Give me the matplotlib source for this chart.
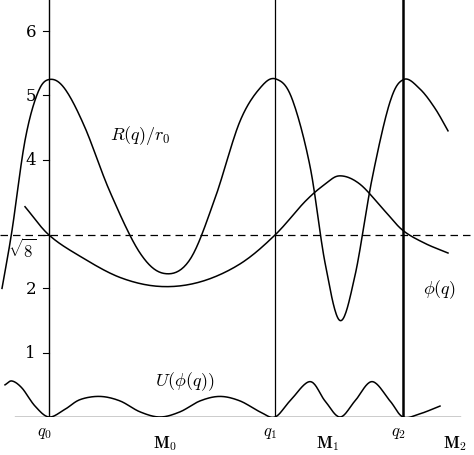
import matplotlib.pyplot as plt
import numpy as np

# curve samples (q in pixel-like units, value in y units)
r_q = [2, 12, 25, 38, 50, 65, 85, 110, 140, 165, 190, 215, 240, 262, 277, 292, 310, 325, 340, 355, 372, 390, 404, 420, 435, 448]
r_v = [2.0, 2.9, 4.3, 5.05, 5.25, 5.1, 4.5, 3.5, 2.55, 2.23, 2.45, 3.4, 4.6, 5.15, 5.25, 4.95, 3.9, 2.4, 1.5, 2.2, 3.7, 4.9, 5.25, 5.1, 4.8, 4.45]
phi_q = [25, 49, 80, 120, 160, 200, 240, 275, 305, 325, 340, 360, 385, 403, 425, 448]
phi_v = [3.27, 2.83, 2.5, 2.17, 2.03, 2.1, 2.38, 2.83, 3.35, 3.62, 3.75, 3.62, 3.2, 2.9, 2.7, 2.55]
u_q = [5, 12, 22, 35, 49, 65, 80, 100, 120, 140, 160, 180, 200, 220, 240, 260, 275, 290, 310, 325, 340, 355, 372, 390, 403, 420, 440]
u_v = [0.5, 0.56, 0.45, 0.17, 0.0, 0.12, 0.27, 0.32, 0.25, 0.08, 0.0, 0.08, 0.25, 0.32, 0.25, 0.08, 0.0, 0.25, 0.55, 0.25, 0.0, 0.25, 0.55, 0.25, 0.0, 0.05, 0.17]
mark_q = [49, 275, 403]
mark_labels = ["$q_0$", "$q_1$", "$q_2$"]
ytick_vals = [1, 2, np.sqrt(8), 4, 5, 6]
ytick_labels = ["1", "2", r"$\sqrt{8}$", "4", "5", "6"]


def smooth(xs, ys, n=20):
    # Catmull-Rom through the sampled points
    xs, ys = np.asarray(xs, float), np.asarray(ys, float)
    px = np.concatenate([[2 * xs[0] - xs[1]], xs, [2 * xs[-1] - xs[-2]]])
    py = np.concatenate([[2 * ys[0] - ys[1]], ys, [2 * ys[-1] - ys[-2]]])
    ox, oy = [], []
    t = np.linspace(0, 1, n, endpoint=False)
    for i in range(1, len(px) - 2):
        for p, o in ((px, ox), (py, oy)):
            a, b, c, d = p[i - 1], p[i], p[i + 1], p[i + 2]
            o.extend(0.5 * (2 * b + (c - a) * t + (2 * a - 5 * b + 4 * c - d) * t ** 2
                            + (3 * b - a - 3 * c + d) * t ** 3))
    ox.append(xs[-1]); oy.append(ys[-1])
    return ox, oy


plt.rcParams['font.family'] = ['DejaVu Serif']
plt.rcParams['mathtext.fontset'] = 'cm'
fig = plt.figure(figsize=(4.74, 4.56), dpi=100)
ax = fig.add_axes([0, 38 / 456, 1, 418 / 456])
ax.set_xlim(0, 474)
ax.set_ylim(0, 6.5)
ax.axis('off')

for xs, ys in ((r_q, r_v), (phi_q, phi_v), (u_q, u_v)):
    sx, sy = smooth(xs, ys)
    ax.plot(sx, sy, color='k', lw=1.1)

ax.axhline(np.sqrt(8), color='k', lw=0.9, ls=(0, (6, 4)))
ax.plot([15, 460], [0, 0], color='k', lw=1)
ax.plot([49, 49], [0, 6.5], color='k', lw=1)
ax.plot([275, 275], [0, 6.5], color='k', lw=0.9)
ax.plot([403, 403], [0, 6.5], color='k', lw=1.8)
for v, lab in zip(ytick_vals, ytick_labels):
    ax.plot([43, 49], [v, v], color='k', lw=0.8)
    ax.text(36, v if lab != r"$\sqrt{8}$" else v - 0.22, lab, fontsize=12, ha='right', va='center')
for q, lab in zip(mark_q, mark_labels):
    ax.text(q - 5, -0.23, lab, fontsize=12, ha='center', va='center', clip_on=False)
for x, lab in ((165, r"$\mathbf{M}_0$"), (328, r"$\mathbf{M}_1$"), (455, r"$\mathbf{M}_2$")):
    ax.text(x, -0.4, lab, fontsize=12, ha='center', va='center', clip_on=False)

ax.text(140, 4.4, "$R(q)/r_0$", fontsize=13, ha='center', va='center')
ax.text(440, 2.0, r"$\phi(q)$", fontsize=13, ha='center', va='center')
ax.text(185, 0.57, r"$U(\phi(q))$", fontsize=13, ha='center', va='center')

fig.savefig('out.png', dpi=100)
